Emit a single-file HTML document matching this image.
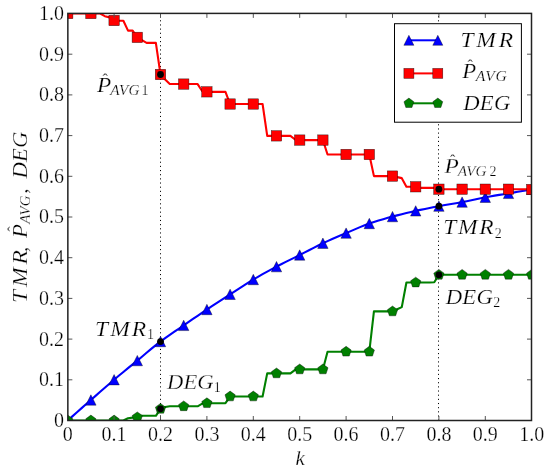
<!DOCTYPE html>
<html><head><meta charset="utf-8"><style>
html,body{margin:0;padding:0;background:#fff;}
svg{display:block;}
text{font-family:'Liberation Serif', 'DejaVu Serif', serif;fill:#000;stroke:#fff;stroke-width:0.25px;}
.it{font-style:italic;}
</style></head><body>
<svg width="550" height="472" viewBox="0 0 550 472">
<defs><clipPath id="ax"><rect x="67.85" y="13.4" width="463.65" height="407.1"/></clipPath></defs>
<rect width="550" height="472" fill="#fff"/>
<g clip-path="url(#ax)">
<path d="M160.5,11.93V420.5M438.5,11.93V420.5" stroke="#000" stroke-width="1" stroke-dasharray="1.1 3.06" fill="none"/>
<polyline points="67.70,420.50 72.34,416.38 76.98,412.27 81.62,408.16 86.26,404.07 90.90,399.99 95.54,395.90 100.18,391.81 104.82,387.73 109.46,383.69 114.10,379.72 118.74,375.82 123.38,371.98 128.02,368.18 132.66,364.39 137.30,360.59 141.94,356.72 146.58,352.81 151.22,348.93 155.86,345.15 160.50,341.54 165.14,338.14 169.78,334.87 174.42,331.70 179.06,328.55 183.70,325.38 188.34,322.18 192.98,318.98 197.62,315.80 202.26,312.64 206.90,309.51 211.54,306.43 216.18,303.37 220.82,300.34 225.46,297.33 230.10,294.33 234.74,291.31 239.38,288.28 244.02,285.27 248.66,282.34 253.30,279.52 257.94,276.81 262.58,274.18 267.22,271.62 271.86,269.12 276.50,266.65 281.14,264.25 285.78,261.92 290.42,259.63 295.06,257.33 299.70,255.01 304.34,252.63 308.98,250.22 313.62,247.81 318.26,245.46 322.90,243.21 327.54,241.08 332.18,239.04 336.82,237.04 341.46,235.08 346.10,233.12 350.74,231.12 355.38,229.09 360.02,227.11 364.66,225.23 369.30,223.51 373.94,221.96 378.58,220.52 383.22,219.16 387.86,217.86 392.50,216.59 397.14,215.37 401.78,214.18 406.42,213.04 411.06,211.95 415.70,210.89 420.34,209.88 424.98,208.91 429.62,207.97 434.26,207.06 438.90,206.17 443.54,205.33 448.18,204.54 452.82,203.75 457.46,202.95 462.10,202.10 466.74,201.17 471.38,200.17 476.02,199.16 480.66,198.17 485.30,197.26 489.94,196.43 494.58,195.66 499.22,194.91 503.86,194.17 508.50,193.39 513.14,192.60 517.78,191.79 522.42,190.98 527.06,190.15 531.70,189.32" fill="none" stroke="#0000ff" stroke-width="2.1" stroke-linejoin="round"/>
<polyline points="67.70,13.50 72.34,13.50 76.98,13.50 81.62,13.50 86.26,13.50 90.90,13.50 95.54,13.50 100.18,13.50 104.82,16.19 109.46,17.37 114.10,20.50 118.74,20.74 123.38,20.74 128.02,30.59 132.66,30.59 137.30,37.39 141.94,40.16 146.58,42.89 151.22,42.89 155.86,42.89 160.50,74.51 165.14,79.43 169.78,84.07 174.42,84.07 179.06,84.07 183.70,84.07 188.34,84.07 192.98,84.07 197.62,84.07 202.26,91.24 206.90,91.85 211.54,91.85 216.18,91.85 220.82,91.85 225.46,91.85 230.10,104.02 234.74,104.02 239.38,104.02 244.02,104.02 248.66,104.02 253.30,104.02 257.94,104.02 262.58,104.02 267.22,135.88 271.86,135.88 276.50,135.88 281.14,135.88 285.78,135.88 290.42,135.88 295.06,139.47 299.70,140.08 304.34,140.08 308.98,140.08 313.62,140.08 318.26,140.08 322.90,140.08 327.54,154.48 332.18,154.48 336.82,154.48 341.46,154.48 346.10,154.48 350.74,154.48 355.38,154.48 360.02,154.48 364.66,154.48 369.30,154.48 373.94,176.10 378.58,176.10 383.22,176.10 387.86,176.10 392.50,176.10 397.14,177.11 401.78,178.13 406.42,186.80 411.06,186.80 415.70,186.80 420.34,187.90 424.98,187.90 429.62,187.90 434.26,187.90 438.90,189.20 443.54,189.20 448.18,189.20 452.82,189.20 457.46,189.20 462.10,189.20 466.74,189.20 471.38,189.20 476.02,189.20 480.66,189.20 485.30,189.20 489.94,189.20 494.58,189.20 499.22,189.20 503.86,189.20 508.50,189.20 513.14,189.20 517.78,189.20 522.42,189.20 527.06,189.20 531.70,189.53" fill="none" stroke="#ff0000" stroke-width="2.1" stroke-linejoin="round"/>
<polyline points="67.70,420.50 72.34,420.50 76.98,420.50 81.62,420.50 86.26,420.50 90.90,420.50 95.54,420.50 100.18,420.50 104.82,420.50 109.46,420.50 114.10,420.50 118.74,420.50 123.38,420.50 128.02,418.26 132.66,417.65 137.30,417.28 141.94,415.82 146.58,415.82 151.22,415.82 155.86,415.82 160.50,408.82 165.14,407.07 169.78,406.30 174.42,406.30 179.06,406.30 183.70,406.30 188.34,406.30 192.98,406.30 197.62,406.30 202.26,403.61 206.90,403.20 211.54,403.20 216.18,403.20 220.82,403.20 225.46,403.20 230.10,396.49 234.74,396.49 239.38,396.49 244.02,396.49 248.66,396.49 253.30,396.49 257.94,396.49 262.58,396.49 267.22,373.41 271.86,373.41 276.50,373.41 281.14,373.41 285.78,373.41 290.42,373.41 295.06,369.83 299.70,369.42 304.34,369.42 308.98,369.42 313.62,369.42 318.26,369.42 322.90,369.42 327.54,351.72 332.18,351.72 336.82,351.72 341.46,351.72 346.10,351.72 350.74,351.72 355.38,351.72 360.02,351.72 364.66,351.72 369.30,351.72 373.94,311.42 378.58,311.42 383.22,311.42 387.86,311.42 392.50,311.42 397.14,309.19 401.78,307.11 406.42,282.53 411.06,282.53 415.70,282.53 420.34,282.53 424.98,282.53 429.62,282.53 434.26,282.32 438.90,274.79 443.54,274.79 448.18,274.79 452.82,274.79 457.46,274.79 462.10,274.79 466.74,274.79 471.38,274.79 476.02,274.79 480.66,274.79 485.30,274.79 489.94,274.79 494.58,274.79 499.22,274.79 503.86,274.79 508.50,274.79 513.14,274.79 517.78,274.79 522.42,274.79 527.06,274.79 531.70,274.79" fill="none" stroke="#008000" stroke-width="2.1" stroke-linejoin="round"/>
<g fill="#0000ff" stroke="#000" stroke-width="0.5" stroke-opacity="0.75"><path d="M67.70,415.30L62.50,425.70L72.90,425.70Z"/><path d="M90.90,394.79L85.70,405.19L96.10,405.19Z"/><path d="M114.10,374.52L108.90,384.92L119.30,384.92Z"/><path d="M137.30,355.39L132.10,365.79L142.50,365.79Z"/><path d="M160.50,336.34L155.30,346.74L165.70,346.74Z"/><path d="M183.70,320.18L178.50,330.58L188.90,330.58Z"/><path d="M206.90,304.31L201.70,314.71L212.10,314.71Z"/><path d="M230.10,289.13L224.90,299.53L235.30,299.53Z"/><path d="M253.30,274.32L248.10,284.72L258.50,284.72Z"/><path d="M276.50,261.45L271.30,271.85L281.70,271.85Z"/><path d="M299.70,249.81L294.50,260.21L304.90,260.21Z"/><path d="M322.90,238.01L317.70,248.41L328.10,248.41Z"/><path d="M346.10,227.92L340.90,238.32L351.30,238.32Z"/><path d="M369.30,218.31L364.10,228.71L374.50,228.71Z"/><path d="M392.50,211.39L387.30,221.79L397.70,221.79Z"/><path d="M415.70,205.69L410.50,216.09L420.90,216.09Z"/><path d="M438.90,200.97L433.70,211.37L444.10,211.37Z"/><path d="M462.10,196.90L456.90,207.30L467.30,207.30Z"/><path d="M485.30,192.06L480.10,202.46L490.50,202.46Z"/><path d="M508.50,188.19L503.30,198.59L513.70,198.59Z"/><path d="M531.70,184.12L526.50,194.52L536.90,194.52Z"/></g>
<g fill="#ff0000" stroke="#000" stroke-width="0.5" stroke-opacity="0.75"><rect x="62.50" y="8.30" width="10.4" height="10.4"/><rect x="85.70" y="8.30" width="10.4" height="10.4"/><rect x="108.90" y="15.30" width="10.4" height="10.4"/><rect x="132.10" y="32.19" width="10.4" height="10.4"/><rect x="155.30" y="69.31" width="10.4" height="10.4"/><rect x="178.50" y="78.87" width="10.4" height="10.4"/><rect x="201.70" y="86.65" width="10.4" height="10.4"/><rect x="224.90" y="98.82" width="10.4" height="10.4"/><rect x="248.10" y="98.82" width="10.4" height="10.4"/><rect x="271.30" y="130.68" width="10.4" height="10.4"/><rect x="294.50" y="134.88" width="10.4" height="10.4"/><rect x="317.70" y="134.88" width="10.4" height="10.4"/><rect x="340.90" y="149.28" width="10.4" height="10.4"/><rect x="364.10" y="149.28" width="10.4" height="10.4"/><rect x="387.30" y="170.90" width="10.4" height="10.4"/><rect x="410.50" y="181.60" width="10.4" height="10.4"/><rect x="433.70" y="184.00" width="10.4" height="10.4"/><rect x="456.90" y="184.00" width="10.4" height="10.4"/><rect x="480.10" y="184.00" width="10.4" height="10.4"/><rect x="503.30" y="184.00" width="10.4" height="10.4"/><rect x="526.50" y="184.33" width="10.4" height="10.4"/></g>
<g fill="#008000" stroke="#000" stroke-width="0.5" stroke-opacity="0.75"><polygon points="67.70,415.10 62.56,418.83 64.53,424.87 70.87,424.87 72.84,418.83"/><polygon points="90.90,415.10 85.76,418.83 87.73,424.87 94.07,424.87 96.04,418.83"/><polygon points="114.10,415.10 108.96,418.83 110.93,424.87 117.27,424.87 119.24,418.83"/><polygon points="137.30,411.88 132.16,415.62 134.13,421.65 140.47,421.65 142.44,415.62"/><polygon points="160.50,403.42 155.36,407.15 157.33,413.19 163.67,413.19 165.64,407.15"/><polygon points="183.70,400.90 178.56,404.63 180.53,410.66 186.87,410.66 188.84,404.63"/><polygon points="206.90,397.80 201.76,401.53 203.73,407.57 210.07,407.57 212.04,401.53"/><polygon points="230.10,391.09 224.96,394.82 226.93,400.86 233.27,400.86 235.24,394.82"/><polygon points="253.30,391.09 248.16,394.82 250.13,400.86 256.47,400.86 258.44,394.82"/><polygon points="276.50,368.01 271.36,371.74 273.33,377.78 279.67,377.78 281.64,371.74"/><polygon points="299.70,364.02 294.56,367.75 296.53,373.79 302.87,373.79 304.84,367.75"/><polygon points="322.90,364.02 317.76,367.75 319.73,373.79 326.07,373.79 328.04,367.75"/><polygon points="346.10,346.32 340.96,350.05 342.93,356.09 349.27,356.09 351.24,350.05"/><polygon points="369.30,346.32 364.16,350.05 366.13,356.09 372.47,356.09 374.44,350.05"/><polygon points="392.50,306.02 387.36,309.76 389.33,315.79 395.67,315.79 397.64,309.76"/><polygon points="415.70,277.13 410.56,280.86 412.53,286.90 418.87,286.90 420.84,280.86"/><polygon points="438.90,269.39 433.76,273.13 435.73,279.16 442.07,279.16 444.04,273.13"/><polygon points="462.10,269.39 456.96,273.13 458.93,279.16 465.27,279.16 467.24,273.13"/><polygon points="485.30,269.39 480.16,273.13 482.13,279.16 488.47,279.16 490.44,273.13"/><polygon points="508.50,269.39 503.36,273.13 505.33,279.16 511.67,279.16 513.64,273.13"/><polygon points="531.70,269.39 526.56,273.13 528.53,279.16 534.87,279.16 536.84,273.13"/></g>
<g fill="#000"><circle cx="160.50" cy="74.51" r="3.4"/><circle cx="160.50" cy="341.54" r="3.4"/><circle cx="160.50" cy="408.82" r="3.4"/><circle cx="438.90" cy="189.20" r="3.4"/><circle cx="438.90" cy="206.17" r="3.4"/><circle cx="438.90" cy="274.79" r="3.4"/></g>
</g>
<path d="M114.10,420.5v-4.5M114.10,13.4v4.5M67.85,379.80h4.5M531.5,379.80h-4.5M160.50,420.5v-4.5M160.50,13.4v4.5M67.85,339.10h4.5M531.5,339.10h-4.5M206.90,420.5v-4.5M206.90,13.4v4.5M67.85,298.40h4.5M531.5,298.40h-4.5M253.30,420.5v-4.5M253.30,13.4v4.5M67.85,257.70h4.5M531.5,257.70h-4.5M299.70,420.5v-4.5M299.70,13.4v4.5M67.85,217.00h4.5M531.5,217.00h-4.5M346.10,420.5v-4.5M346.10,13.4v4.5M67.85,176.30h4.5M531.5,176.30h-4.5M392.50,420.5v-4.5M392.50,13.4v4.5M67.85,135.60h4.5M531.5,135.60h-4.5M438.90,420.5v-4.5M438.90,13.4v4.5M67.85,94.90h4.5M531.5,94.90h-4.5M485.30,420.5v-4.5M485.30,13.4v4.5M67.85,54.20h4.5M531.5,54.20h-4.5" stroke="#555" stroke-width="1" fill="none"/>
<rect x="67.85" y="13.4" width="463.65" height="407.1" fill="none" stroke="#222" stroke-width="1.5"/>
<g font-size="20"><text x="67.70" y="440.5" text-anchor="middle">0</text><text x="114.10" y="440.5" text-anchor="middle">0.1</text><text x="160.50" y="440.5" text-anchor="middle">0.2</text><text x="206.90" y="440.5" text-anchor="middle">0.3</text><text x="253.30" y="440.5" text-anchor="middle">0.4</text><text x="299.70" y="440.5" text-anchor="middle">0.5</text><text x="346.10" y="440.5" text-anchor="middle">0.6</text><text x="392.50" y="440.5" text-anchor="middle">0.7</text><text x="438.90" y="440.5" text-anchor="middle">0.8</text><text x="485.30" y="440.5" text-anchor="middle">0.9</text><text x="531.70" y="440.5" text-anchor="middle">1.0</text><text x="64" y="426.90" text-anchor="end">0</text><text x="64" y="386.20" text-anchor="end">0.1</text><text x="64" y="345.50" text-anchor="end">0.2</text><text x="64" y="304.80" text-anchor="end">0.3</text><text x="64" y="264.10" text-anchor="end">0.4</text><text x="64" y="223.40" text-anchor="end">0.5</text><text x="64" y="182.70" text-anchor="end">0.6</text><text x="64" y="142.00" text-anchor="end">0.7</text><text x="64" y="101.30" text-anchor="end">0.8</text><text x="64" y="60.60" text-anchor="end">0.9</text><text x="64" y="19.90" text-anchor="end">1.0</text></g>
<text x="295.5" y="464.5" font-size="21" font-style="italic">k</text>
<rect x="394.5" y="23.7" width="126.9" height="98.5" fill="#fff" stroke="#000" stroke-width="1"/><path d="M408.9,40.3H437.8" stroke="#0000ff" stroke-width="2"/><g fill="#0000ff" stroke="#000" stroke-width="0.5" stroke-opacity="0.75"><path d="M408.90,35.30L403.90,45.30L413.90,45.30Z"/><path d="M437.80,35.30L432.80,45.30L442.80,45.30Z"/></g><path d="M408.9,73.4H437.8" stroke="#ff0000" stroke-width="2"/><g fill="#ff0000" stroke="#000" stroke-width="0.5" stroke-opacity="0.75"><rect x="403.90" y="68.40" width="10" height="10"/><rect x="432.80" y="68.40" width="10" height="10"/></g><path d="M408.9,103.3H437.8" stroke="#008000" stroke-width="2"/><g fill="#008000" stroke="#000" stroke-width="0.5" stroke-opacity="0.75"><polygon points="408.90,98.10 403.95,101.69 405.84,107.51 411.96,107.51 413.85,101.69"/><polygon points="437.80,98.10 432.85,101.69 434.74,107.51 440.86,107.51 442.75,101.69"/></g>
<text transform="translate(460.5,47.1) scale(1.12,1)" font-size="21" font-style="italic" textLength="46.91" lengthAdjust="spacing">TMR</text><text transform="translate(462.3,77.5) scale(1.085,1)" font-size="21" font-style="italic">P</text><text transform="translate(475.8,80.5) scale(1.12,1)" font-size="14" font-style="italic" textLength="27.8" lengthAdjust="spacing">AVG</text><text transform="translate(463.3,110.4) scale(1.079,1)" font-size="21" font-style="italic" textLength="43.54" lengthAdjust="spacing">DEG</text><text transform="translate(97.1,91.5) scale(1.108,1)" font-size="21" font-style="italic">P</text><text transform="translate(110.3,94.7) scale(1.089,1)" font-size="14" font-style="italic" textLength="26.89" lengthAdjust="spacing">AVG</text><text x="141.5" y="94.7" font-size="14">1</text><text transform="translate(95.1,335.6) scale(1.12,1)" font-size="21" font-style="italic" textLength="45.55" lengthAdjust="spacing">TMR</text><text x="146.9" y="338.5" font-size="14">1</text><text transform="translate(167.0,388.8) scale(1.074,1)" font-size="21" font-style="italic" textLength="43.35" lengthAdjust="spacing">DEG</text><text x="213.7" y="391.7" font-size="14">1</text><text transform="translate(444.4,173.1) scale(1.115,1)" font-size="21" font-style="italic">P</text><text transform="translate(457.7,176.2) scale(1.093,1)" font-size="14" font-style="italic">AVG</text><text x="489.5" y="176.2" font-size="14">2</text><text transform="translate(443.2,234.2) scale(1.12,1)" font-size="21" font-style="italic" textLength="45.0" lengthAdjust="spacing">TMR</text><text x="494.7" y="237.7" font-size="14">2</text><text transform="translate(445.7,303.5) scale(1.081,1)" font-size="21" font-style="italic" textLength="43.63" lengthAdjust="spacing">DEG</text><text x="493.2" y="306.7" font-size="14">2</text><text x="467.5" y="70.7" font-size="16">&#710;</text><text x="102.5" y="84.5" font-size="16">&#710;</text><text x="449.9" y="165.8" font-size="16">&#710;</text>
<g transform="rotate(-90)"><text transform="translate(-303.0,26.8) scale(1.12,1)" font-size="21" font-style="italic" textLength="47.18" lengthAdjust="spacing">TMR</text><text x="-252.0" y="26.8" font-size="21" font-style="italic">,</text><text transform="translate(-237.9,26.8) scale(1.085,1)" font-size="21" font-style="italic">P</text><text transform="translate(-223.8,29.8) scale(1.063,1)" font-size="14" font-style="italic">AVG</text><text x="-193.7" y="26.8" font-size="21" font-style="italic">,</text><text transform="translate(-178.6,26.8) scale(1.079,1)" font-size="21" font-style="italic" textLength="43.54" lengthAdjust="spacing">DEG</text><text x="-231.7" y="19.2" font-size="16">&#710;</text></g>
</svg>
</body></html>
